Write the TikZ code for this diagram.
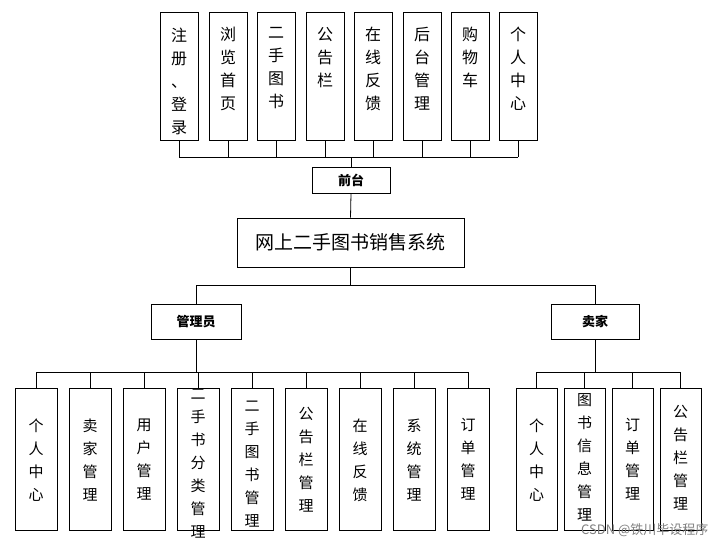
\documentclass[tikz,border=0pt]{standalone}
\usepackage{fontspec}
\setmainfont{Noto Sans CJK SC}
\begin{document}
\begin{tikzpicture}[x=1pt,y=-1pt,
  bx/.style={draw,thick,fill=white,inner sep=0pt},
  vt/.style={align=center,font=\fontsize{16}{23}\selectfont},
  ln/.style={thick}]
\useasboundingbox (0,0) rectangle (722,546);
% top
\foreach \x/\t [count=\i] in {160/{注\\册\\、\\登\\录},209/{浏\\览\\首\\页},257/{二\\手\\图\\书},306/{公\\告\\栏},354/{在\\线\\反\\馈},403/{后\\台\\管\\理},451/{购\\物\\车},499/{个\\人\\中\\心}}{
  \node[bx,minimum width=38pt,minimum height=128pt] (t\i) at (\x+19,76) {};
  \node[vt,anchor=north] at (\x+19,24) {\t};
  \draw[ln] (t\i.south) -- (\x+19,157);
}
\draw[ln] (179,157) -- (518,157);
\node[bx,minimum width=78pt,minimum height=26pt,font=\fontsize{13}{13}\selectfont\bfseries] (qt) at (351,180) {前台};
\draw[ln] (351,157) -- (qt.north);
\node[bx,minimum width=227pt,minimum height=49pt,font=\fontsize{19}{19}\selectfont] (main) at (350.5,242.5) {网上二手图书销售系统};
\draw[ln] (qt.south) -- (main.north);
\draw[ln] (main.south) -- (350.5,285);
\draw[ln] (196,285) -- (595,285);
\node[bx,minimum width=90pt,minimum height=35pt,font=\fontsize{13}{13}\selectfont\bfseries] (gl) at (196,321.5) {管理员};
\node[bx,minimum width=88pt,minimum height=35pt,font=\fontsize{13}{13}\selectfont\bfseries] (mj) at (595,321.5) {卖家};
\draw[ln] (196,285) -- (gl.north);
\draw[ln] (595,285) -- (mj.north);
\draw[ln] (gl.south) -- (196,372);
\draw[ln] (mj.south) -- (595,372);
\draw[ln] (36,372) -- (468,372);
\draw[ln] (537,372) -- (680,372);
\foreach \x/\t/\y [count=\i] in {15/{个\\人\\中\\心}/415,69/{卖\\家\\管\\理}/415,123/{用\\户\\管\\理}/415,177/{二\\手\\书\\分\\类\\管\\理}/386,231/{二\\手\\图\\书\\管\\理}/398,285/{公\\告\\栏\\管\\理}/404,339/{在\\线\\反\\馈}/415,393/{系\\统\\管\\理}/415,447/{订\\单\\管\\理}/415}{
  \node[bx,minimum width=42pt,minimum height=142pt] (b\i) at (\x+21,459) {};
  \node[vt,anchor=north,font=\fontsize{15}{23}\selectfont] at (\x+21,\y) {\t};
  \draw[ln] (\x+21,372) -- (b\i.north);
}
\foreach \x/\t/\y [count=\i] in {516/{个\\人\\中\\心}/415,564/{图\\书\\信\\息\\管\\理}/390,612/{订\\单\\管\\理}/415,660/{公\\告\\栏\\管\\理}/402}{
  \node[bx,minimum width=41pt,minimum height=142pt] (r\i) at (\x+20.5,459) {};
  \node[vt,anchor=north,font=\fontsize{15}{23}\selectfont] at (\x+20.5,\y) {\t};
  \draw[ln] (\x+20.5,372) -- (r\i.north);
}
\node[anchor=south east,text=gray,font=\fontsize{13}{13}\selectfont] (wm) at (712,540) {CSDN @铁川毕设程序};
\end{tikzpicture}
\end{document}
